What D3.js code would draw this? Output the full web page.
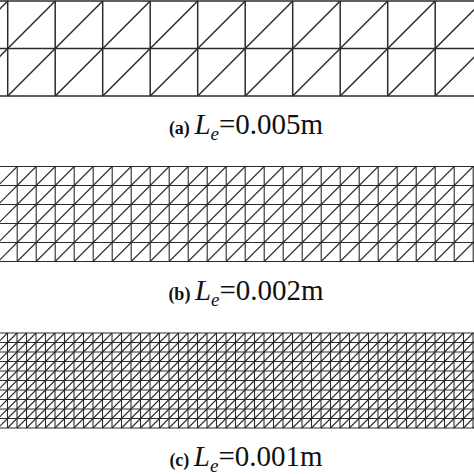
<!DOCTYPE html>
<html><head><meta charset="utf-8">
<script src="https://cdn.jsdelivr.net/npm/d3@7"></script>
<style>body{margin:0;background:#fff}</style>
</head><body>
<svg id="chart" width="474" height="474"></svg>
<script>
// mesh panels: element size label, rows, columns visible
var panelLabels = ["(a)", "(b)", "(c)"];
var panelSizes = ["0.005", "0.002", "0.001"];
var panelRows = [2, 5, 10];
var panelCols = [11, 27, 51];

var W = 474;
var tops = [1, 166.5, 333];
var meshH = 95;
var offsets = [6.5 - 46.3, -1.8, -2];
var labelY = [134, 300, 466];

var svg = d3.select("#chart");
svg.append("defs").append("clipPath").attr("id", "clip")
    .append("rect").attr("x", 0).attr("y", 0).attr("width", W).attr("height", 474);

panelRows.forEach(function(rows, p) {
    var cell = meshH / rows;
    var y = d3.scaleLinear().domain([0, rows]).range([tops[p], tops[p] + meshH]);
    var x = d3.scaleLinear().domain([0, 1]).range([offsets[p], offsets[p] + cell]);
    var g = svg.append("g").attr("clip-path", "url(#clip)")
        .attr("stroke", "#2b2b2b")
        .attr("stroke-width", p == 0 ? 1.5 : 1.1);

    var cells = [];
    for (var r = 0; r < rows; r++)
        for (var c = 0; c < panelCols[p]; c++) cells.push({r: r, c: c});

    g.selectAll("line.h").data(d3.range(rows + 1)).enter().append("line")
        .attr("x1", 0).attr("x2", W)
        .attr("y1", function(d) { return y(d); })
        .attr("y2", function(d) { return y(d); });
    g.selectAll("line.v").data(d3.range(panelCols[p] + 1)).enter().append("line")
        .attr("x1", function(d) { return x(d); })
        .attr("x2", function(d) { return x(d); })
        .attr("y1", y(0)).attr("y2", y(rows));
    g.selectAll("line.d").data(cells).enter().append("line")
        .attr("x1", function(d) { return x(d.c); })
        .attr("y1", function(d) { return y(d.r + 1); })
        .attr("x2", function(d) { return x(d.c + 1); })
        .attr("y2", function(d) { return y(d.r); });

    var t = svg.append("text")
        .attr("x", 246).attr("y", labelY[p])
        .attr("text-anchor", "middle")
        .style("font-family", "'Liberation Serif', 'Times New Roman', serif")
        .attr("font-size", "29px").attr("fill", "#111");
    t.append("tspan").attr("font-weight", "bold").attr("font-size", "18px")
        .text(panelLabels[p] + "  ");
    t.append("tspan").attr("font-style", "italic").text("L");
    t.append("tspan").attr("font-style", "italic").attr("font-size", "19px")
        .attr("dy", 6).text("e");
    t.append("tspan").attr("dy", -6).text("=" + panelSizes[p] + "m");
});
</script>
</body></html>
